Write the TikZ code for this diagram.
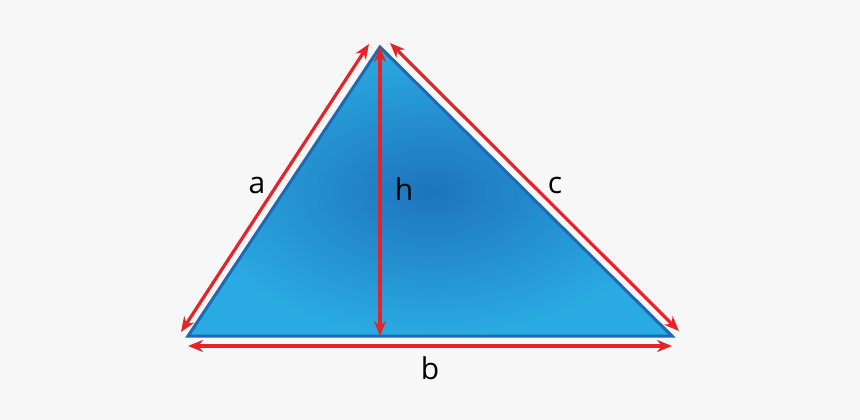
\documentclass[tikz,border=0pt]{standalone}
\usepackage{fontspec}
\setmainfont{Open Sans}
\usetikzlibrary{arrows.meta}
\definecolor{bg}{HTML}{F7F7F7}
\definecolor{triedge}{HTML}{2AAAE2}
\definecolor{tricenter}{HTML}{1E74BD}
\definecolor{triborder}{HTML}{1D6AB2}
\definecolor{arrred}{HTML}{E5232A}
\tikzset{
  dim/.style={draw=arrred, line width=3.2pt, {Stealth[length=15pt,width=12pt]}-{Stealth[length=15pt,width=12pt]}},
  lbl/.style={font=\fontsize{30}{32}\selectfont, text=black, inner sep=0pt}
}
\begin{document}
\begin{tikzpicture}[x=1pt,y=-1pt]
\fill[bg] (0,0) rectangle (860,420);
\coordinate (A) at (380,47);
\coordinate (L) at (188,336);
\coordinate (R) at (672,336);
\shade[inner color=tricenter, outer color=triedge] (A) -- (L) -- (R) -- cycle;
\draw[triborder, line width=3pt, line join=miter] (A) -- (L) -- (R) -- cycle;
% arrow endpoints
\coordinate (a1) at (181,332);
\coordinate (a2) at (369,44);
\coordinate (c1) at (390,43);
\coordinate (c2) at (679,331);
\coordinate (b1) at (188,346);
\coordinate (b2) at (672,346);
\coordinate (h1) at (380,47);
\coordinate (h2) at (380,336);
\draw[dim] (a1) -- (a2);
\draw[dim] (c1) -- (c2);
\draw[dim] (b1) -- (b2);
\draw[dim] (h1) -- (h2);
\node[lbl] (la) at (257,185) {a};
\node[lbl] (lh) at (404,189) {h};
\node[lbl] (lc) at (555,185) {c};
\node[lbl] (lb) at (430,368) {b};
\end{tikzpicture}
\end{document}
